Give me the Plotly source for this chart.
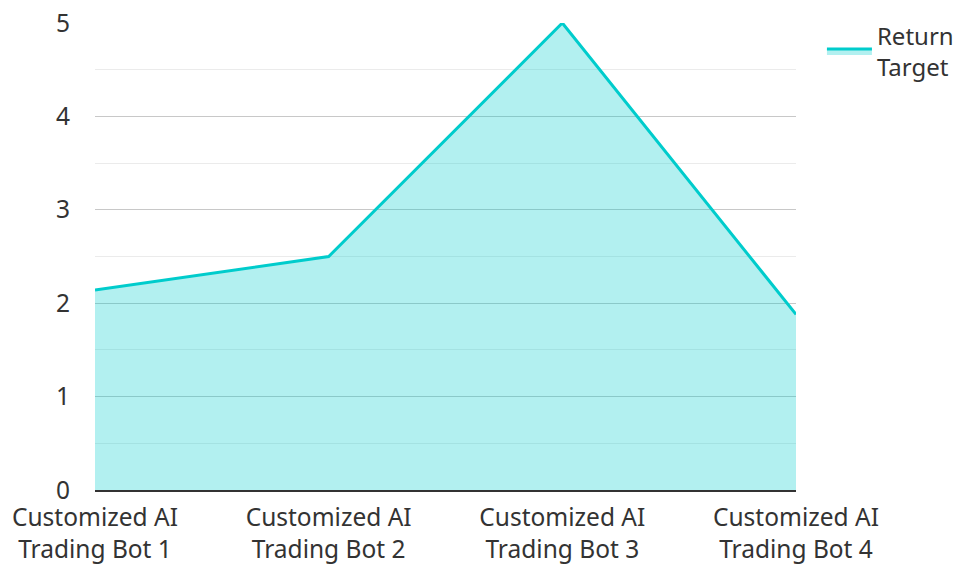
import plotly.graph_objects as go

categories = ["Customized AI<br>Trading Bot 1", "Customized AI<br>Trading Bot 2",
              "Customized AI<br>Trading Bot 3", "Customized AI<br>Trading Bot 4"]
returns = [2.14, 2.5, 5.0, 1.88]
series_name = "Return<br>Target"
y_ticks = [0, 1, 2, 3, 4, 5]

fig = go.Figure()
fig.add_trace(go.Scatter(
    x=categories, y=returns, mode="lines", name=series_name,
    fill="tozeroy", fillcolor="rgba(0,204,204,0.3)",
    line=dict(color="#00CCCC", width=3),
))

fig.update_layout(
    width=961, height=564,
    margin=dict(l=95, r=165, t=23, b=74, autoexpand=False),
    paper_bgcolor="white", plot_bgcolor="white",
    font=dict(family="Noto Sans", size=24.5, color="#333333"),
    showlegend=True,
    legend=dict(x=1.037, y=1.021, xanchor="left", yanchor="top",
                itemwidth=45,
                font=dict(size=24, color="#333333"), bgcolor="rgba(0,0,0,0)"),
    xaxis=dict(type="category", range=[0, 3], showgrid=False, automargin=False,
               showline=True, linecolor="#333333", linewidth=2,
               ticks="", ticklabelstandoff=5, ticklabeloverflow="allow",
               tickfont=dict(size=24.5, color="#333333")),
    yaxis=dict(range=[0, 5], tickvals=y_ticks, showgrid=True, automargin=False,
               gridcolor="#c8c8c8", gridwidth=1, zeroline=False,
               ticks="", ticklabelstandoff=24, ticklabeloverflow="allow",
               tickfont=dict(size=24.5, color="#333333"),
               minor=dict(dtick=0.5, showgrid=True, gridcolor="#ebebeb", gridwidth=1)),
)

fig.write_html("out.html", config={"displayModeBar": False},
               post_script="document.body.style.margin='0';")
